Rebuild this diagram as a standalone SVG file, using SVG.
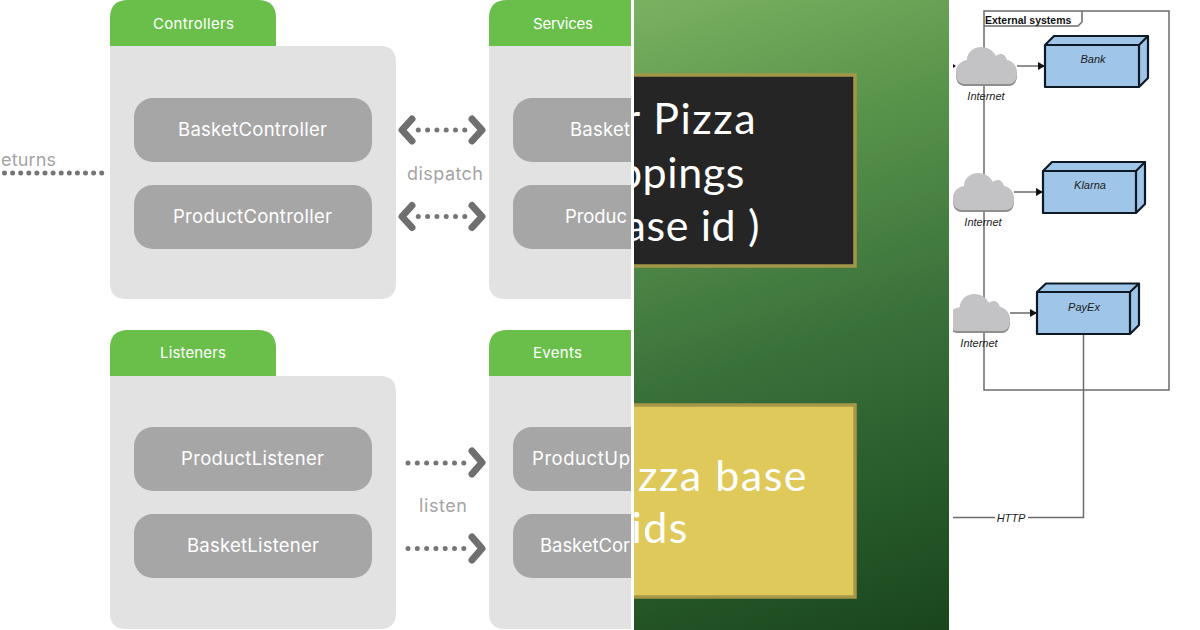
<svg xmlns="http://www.w3.org/2000/svg" width="1200" height="630" viewBox="0 0 1200 630">
<defs>
<linearGradient id="bg" gradientUnits="userSpaceOnUse" x1="700" y1="-10" x2="900" y2="640"><stop offset="0" stop-color="#79b060"/><stop offset="0.22" stop-color="#5b964c"/><stop offset="0.55" stop-color="#39703a"/><stop offset="0.8" stop-color="#265a2a"/><stop offset="1" stop-color="#1b461d"/></linearGradient>
<clipPath id="left"><rect x="0" y="0" width="631" height="630"/></clipPath>
<clipPath id="mid"><rect x="634" y="0" width="315" height="630"/></clipPath>
<clipPath id="right"><rect x="953" y="0" width="247" height="630"/></clipPath>
<marker id="tri" markerUnits="userSpaceOnUse" markerWidth="8" markerHeight="8" refX="7" refY="4" orient="auto"><path d="M0 0L7 4L0 8Z" fill="#111"/></marker>
<path id="cloud" d="M-22 37C-30 37 -31 30 -31 25C-31 18 -26 14 -20 13C-20 4 -12 0 -6 0C0 0 6 3 9 9C12 6 18 6 20 13C26 14 30 19 30 26C30 33 27 37 22 37Z"/>
</defs>
<style>
.tab{fill:#6abf4b}
.panel{fill:#e2e2e2}
.pill{fill:#a6a6a6}
.t{font-family:"Inter","Open Sans","Liberation Sans",sans-serif;fill:#fff;text-anchor:middle}
.s{text-anchor:start}
.h{font-size:15px}
.p{font-size:18.5px}
.lb{font-family:"Inter","Open Sans","Liberation Sans",sans-serif;font-size:18px;fill:#a4a4a4;text-anchor:middle}
.dots{fill:none;stroke:#757575;stroke-width:5;stroke-linecap:round;stroke-dasharray:0 9.3}
.dots2{fill:none;stroke:#757575;stroke-width:5;stroke-linecap:round;stroke-dasharray:0 8.1}
.head{fill:none;stroke:#6f6f6f;stroke-width:7;stroke-linecap:round;stroke-linejoin:round}
.pz{font-family:"Lato","Open Sans",sans-serif;font-size:43px;letter-spacing:1.5px;fill:#fff;text-anchor:end}
.tight{letter-spacing:.6px}
.box{fill:#9fc5e8;stroke:#0d1a26;stroke-width:2.200;stroke-linejoin:round}
.cl{fill:#c3c3c5}
.cs{fill:#8e8e8e}
.fr{fill:none;stroke:#6b6b6b;stroke-width:1.500}
.it{font-family:"Liberation Sans",Arial,sans-serif;font-style:italic;font-size:11px;fill:#1c1c1c;text-anchor:middle}
.con{fill:none;stroke:#444;stroke-width:1.200}
</style>
<rect width="1200" height="630" fill="#fff"/>

<g id="middle-panel" clip-path="url(#mid)">
<rect x="634" y="0" width="315" height="630" fill="url(#bg)"/>
<rect x="600" y="75" width="255" height="191" fill="#252525" stroke="#a29648" stroke-width="3.500"/>
<rect x="600" y="405" width="255" height="192" fill="#dfc95a" stroke="#a8974a" stroke-width="3.500"/>
<text class="pz" x="757" y="134">r Pizza</text>
<text class="pz tight" x="745" y="188">ppings</text>
<text class="pz tight" x="760" y="241">ase id )</text>
<text class="pz" x="808" y="491">zza base</text>
<text class="pz" x="689" y="543">ids</text>
</g>

<g id="left-panel" clip-path="url(#left)">
<g id="controllers">
<path class="tab" d="M110 46V18Q110 0 128 0H258Q276 0 276 18V46Z"/>
<path class="panel" d="M110 46H380Q396 46 396 62V283Q396 299 380 299H126Q110 299 110 283Z"/>
<text class="t h" x="193.500" y="29" textLength="81">Controllers</text>
<g id="basket-controller"><rect class="pill" x="134" y="98" width="238" height="64" rx="19"/><text class="t p" x="252.500" y="136" textLength="149">BasketController</text></g>
<g id="product-controller"><rect class="pill" x="134" y="185" width="238" height="64" rx="19"/><text class="t p" x="252.500" y="223" textLength="159">ProductController</text></g>
</g>
<g id="services">
<path class="tab" d="M489 46V18Q489 0 507 0H637Q655 0 655 18V46Z"/>
<path class="panel" d="M489 46H759Q775 46 775 62V283Q775 299 759 299H505Q489 299 489 283Z"/>
<text class="t h" x="563" y="29" textLength="60">Services</text>
<g id="basket-service"><rect class="pill" x="513" y="98" width="238" height="64" rx="19"/><text class="t p s" x="570" y="136" textLength="60">Basket</text></g>
<g id="product-service"><rect class="pill" x="513" y="185" width="238" height="64" rx="19"/><text class="t p s" x="565" y="223" textLength="62">Produc</text></g>
</g>
<g id="listeners">
<path class="tab" d="M110 376V348Q110 330 128 330H258Q276 330 276 348V376Z"/>
<path class="panel" d="M110 376H380Q396 376 396 392V613Q396 629 380 629H126Q110 629 110 613Z"/>
<text class="t h" x="193" y="358" textLength="66">Listeners</text>
<g id="product-listener"><rect class="pill" x="134" y="427" width="238" height="64" rx="19"/><text class="t p" x="252.500" y="465" textLength="143">ProductListener</text></g>
<g id="basket-listener"><rect class="pill" x="134" y="514" width="238" height="64" rx="19"/><text class="t p" x="253" y="552" textLength="132">BasketListener</text></g>
</g>
<g id="events">
<path class="tab" d="M489 376V348Q489 330 507 330H637Q655 330 655 348V376Z"/>
<path class="panel" d="M489 376H759Q775 376 775 392V613Q775 629 759 629H505Q489 629 489 613Z"/>
<text class="t h" x="557.500" y="358" textLength="49">Events</text>
<g id="product-updated"><rect class="pill" x="513" y="427" width="238" height="64" rx="19"/><text class="t p s" x="532" y="465" textLength="98">ProductUp</text></g>
<g id="basket-completed"><rect class="pill" x="513" y="514" width="238" height="64" rx="19"/><text class="t p s" x="540" y="552" textLength="90">BasketCor</text></g>
</g>
<g id="connectors-left">
<path class="dots2" d="M4.500 173H105"/>
<text class="lb" x="1" y="166" style="text-anchor:start" textLength="55">eturns</text>
<path class="dots" d="M418.300 130H466"/><path class="head" d="M412 119L402 130L412 141M472 119L482 130L472 141"/>
<path class="dots" d="M418.300 216.500H466"/><path class="head" d="M412 205.500L402 216.500L412 227.500M472 205.500L482 216.500L472 227.500"/>
<text class="lb" x="445" y="180" textLength="76">dispatch</text>
<path class="dots" d="M408 463H470"/><path class="head" d="M472 451L482 462.500L472 474"/>
<path class="dots" d="M408 548.500H470"/><path class="head" d="M472 537L482 548.500L472 560"/>
<text class="lb" x="443" y="512" textLength="48">listen</text>
</g>
</g>

<g id="right-panel" clip-path="url(#right)">
<g id="external-systems">
<rect class="fr" x="984" y="11" width="185" height="379"/>
<path class="fr" d="M984 26H1078L1082 22V11"/>
<text x="985" y="24" font-family="Liberation Sans,Arial,sans-serif" font-size="10.500" font-weight="bold" fill="#111">External systems</text>
</g>
<g id="connectors-right">
<path class="con" d="M1017 66H1045" marker-end="url(#tri)"/>
<path class="con" d="M1014 192H1043" marker-end="url(#tri)"/>
<path class="con" d="M1010 313H1037" marker-end="url(#tri)"/>
<path class="fr" d="M1083.500 334V517.500H953"/>
<path d="M953 64L956 66L953 68Z" fill="#111"/>
<rect x="995" y="511" width="33" height="13" fill="#fff"/>
<text class="it" x="1011" y="522">HTTP</text>
</g>
<g id="internet-1"><use href="#cloud" class="cs" transform="translate(987 49)"/><use href="#cloud" class="cl" transform="translate(987 47)"/><text class="it" x="986" y="100">Internet</text></g>
<g id="internet-2"><use href="#cloud" class="cs" transform="translate(984 175)"/><use href="#cloud" class="cl" transform="translate(984 173)"/><text class="it" x="983" y="226">Internet</text></g>
<g id="internet-3"><use href="#cloud" class="cs" transform="translate(980 296)"/><use href="#cloud" class="cl" transform="translate(980 294)"/><text class="it" x="979" y="347">Internet</text></g>
<g id="bank"><path class="box" d="M1045 45H1139V87H1045ZM1045 45L1054 36H1148L1139 45M1139 45L1148 36V78L1139 87Z"/><text class="it" x="1093" y="63">Bank</text></g>
<g id="klarna"><path class="box" d="M1043 171H1136V213H1043ZM1043 171L1052 162H1145L1136 171M1136 171L1145 162V204L1136 213Z"/><text class="it" x="1090" y="189">Klarna</text></g>
<g id="payex"><path class="box" d="M1037 292H1130V334H1037ZM1037 292L1046 283.500H1139L1130 292M1130 292L1139 283.500V325L1130 334Z"/><text class="it" x="1084" y="311">PayEx</text></g>
</g>
</svg>
